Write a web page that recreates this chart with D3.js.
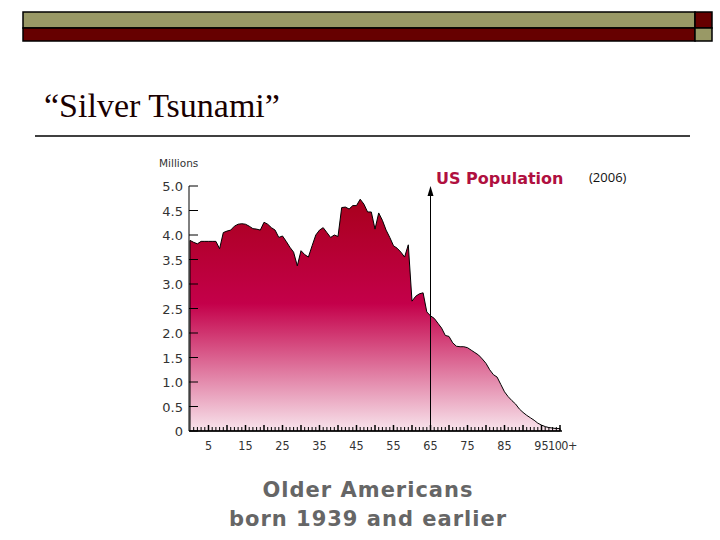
<!DOCTYPE html><html><head><meta charset="utf-8"><script src="https://cdn.jsdelivr.net/npm/d3@7"></script>
<style>body{margin:0;background:#fff}</style></head><body><svg width="720" height="540"></svg><script>
const ages=d3.range(0,101);
const population=[3.89,3.85,3.82,3.87,3.87,3.87,3.87,3.87,3.72,4.05,4.08,4.10,4.18,4.22,4.23,4.22,4.18,4.13,4.12,4.10,4.26,4.22,4.15,4.10,3.95,3.98,3.87,3.75,3.65,3.37,3.68,3.60,3.55,3.78,4.00,4.10,4.15,4.05,3.95,4.00,3.97,4.56,4.57,4.53,4.60,4.60,4.73,4.63,4.47,4.47,4.12,4.45,4.30,4.10,3.95,3.78,3.73,3.65,3.55,3.80,2.65,2.75,2.80,2.82,2.43,2.35,2.30,2.20,2.10,1.95,1.93,1.80,1.73,1.72,1.72,1.70,1.65,1.60,1.55,1.47,1.38,1.25,1.15,1.10,0.95,0.80,0.70,0.62,0.55,0.45,0.38,0.32,0.27,0.22,0.16,0.12,0.09,0.07,0.06,0.05,0.05];
const yTicks=[0,0.5,1.0,1.5,2.0,2.5,3.0,3.5,4.0,4.5,5.0];
const xTickAges=[5,15,25,35,45,55,65,75,85,95,100];
const xTickLabels=["5","15","25","35","45","55","65","75","85","95","100+"];
const svg=d3.select("svg");
svg.append("rect").attr("x",23).attr("y",12).attr("width",672).attr("height",16).attr("fill","#999966").attr("stroke","#000").attr("stroke-width",1.5);
svg.append("rect").attr("x",23).attr("y",28).attr("width",672).attr("height",13).attr("fill","#660000").attr("stroke","#000").attr("stroke-width",1.5);
svg.append("rect").attr("x",695).attr("y",12).attr("width",17).attr("height",16).attr("fill","#660000").attr("stroke","#000").attr("stroke-width",1.5);
svg.append("rect").attr("x",695).attr("y",28).attr("width",17).attr("height",13).attr("fill","#999966").attr("stroke","#000").attr("stroke-width",1.5);
svg.append("text").attr("x",44).attr("y",117).attr("font-family","Liberation Serif").attr("font-size",34).attr("fill","#1a0000").text("“Silver Tsunami”");
svg.append("line").attr("x1",35).attr("x2",690).attr("y1",136).attr("y2",136).attr("stroke","#000").attr("stroke-width",1.5);
const x=d3.scaleLinear().domain([0,100]).range([190,560]);
const y=d3.scaleLinear().domain([0,5]).range([431,186]);
const defs=svg.append("defs");
const g=defs.append("linearGradient").attr("id","gr").attr("x1",0).attr("x2",0).attr("y1",0).attr("y2",1);
g.append("stop").attr("offset","0%").attr("stop-color","#a8001c");
g.append("stop").attr("offset","45%").attr("stop-color","#c4004a");
g.append("stop").attr("offset","100%").attr("stop-color","#f8e4ec");
const area=d3.area().x((d,i)=>x(ages[i])).y0(y(0)).y1(d=>y(d));
svg.append("path").datum(population).attr("d",area).attr("fill","url(#gr)").attr("stroke","#000").attr("stroke-width",1).attr("stroke-linejoin","round");
svg.append("line").attr("x1",189).attr("x2",189).attr("y1",y(5)).attr("y2",y(0)).attr("stroke","#000");
yTicks.forEach(t=>{
 svg.append("line").attr("x1",189).attr("x2",198).attr("y1",y(t)).attr("y2",y(t)).attr("stroke","#000");
 svg.append("text").attr("x",183).attr("y",y(t)+5).attr("text-anchor","end").attr("font-family","DejaVu Sans").attr("font-size",13).attr("fill","#333").text(t===0?"0":t.toFixed(1));
});
svg.append("text").attr("x",159).attr("y",167).attr("font-family","DejaVu Sans").attr("font-size",10.5).attr("fill","#333").text("Millions");
svg.append("line").attr("x1",189).attr("x2",562).attr("y1",431).attr("y2",431).attr("stroke","#000").attr("stroke-width",1.5);
ages.forEach(a=>{ if(a>0) svg.append("line").attr("x1",x(a)).attr("x2",x(a)).attr("y1",431).attr("y2",a%5===0?425:427).attr("stroke","#000").attr("stroke-width",a%5===0?1.5:1);});
xTickAges.forEach((a,i)=>{
 const last=i===xTickAges.length-1;
 svg.append("text").attr("x",last?x(a)-12:x(a)).attr("y",450).attr("text-anchor",last?"start":"middle").attr("font-family","DejaVu Sans Condensed").attr("font-size",12.5).attr("letter-spacing",last?-0.5:0).attr("fill","#333").text(xTickLabels[i]);
});
svg.append("line").attr("x1",x(65)).attr("x2",x(65)).attr("y1",431).attr("y2",192).attr("stroke","#000");
svg.append("path").attr("d",`M${x(65)-3},196 L${x(65)},186 L${x(65)+3},196 Z`).attr("fill","#000");
svg.append("text").attr("x",436).attr("y",184).attr("font-family","DejaVu Sans").attr("font-weight","bold").attr("font-size",16).attr("fill","#b01040").text("US Population");
svg.append("text").attr("x",589).attr("y",182).attr("font-family","Open Sans").attr("font-size",13).attr("fill","#111").text("(2006)");
svg.append("text").attr("x",368).attr("y",497).attr("text-anchor","middle").attr("font-family","DejaVu Sans").attr("font-weight","bold").attr("font-size",21).attr("letter-spacing",1).attr("fill","#666").text("Older Americans");
svg.append("text").attr("x",368).attr("y",526).attr("text-anchor","middle").attr("font-family","DejaVu Sans").attr("font-weight","bold").attr("font-size",21).attr("letter-spacing",1).attr("fill","#666").text("born 1939 and earlier");
</script></body></html>
